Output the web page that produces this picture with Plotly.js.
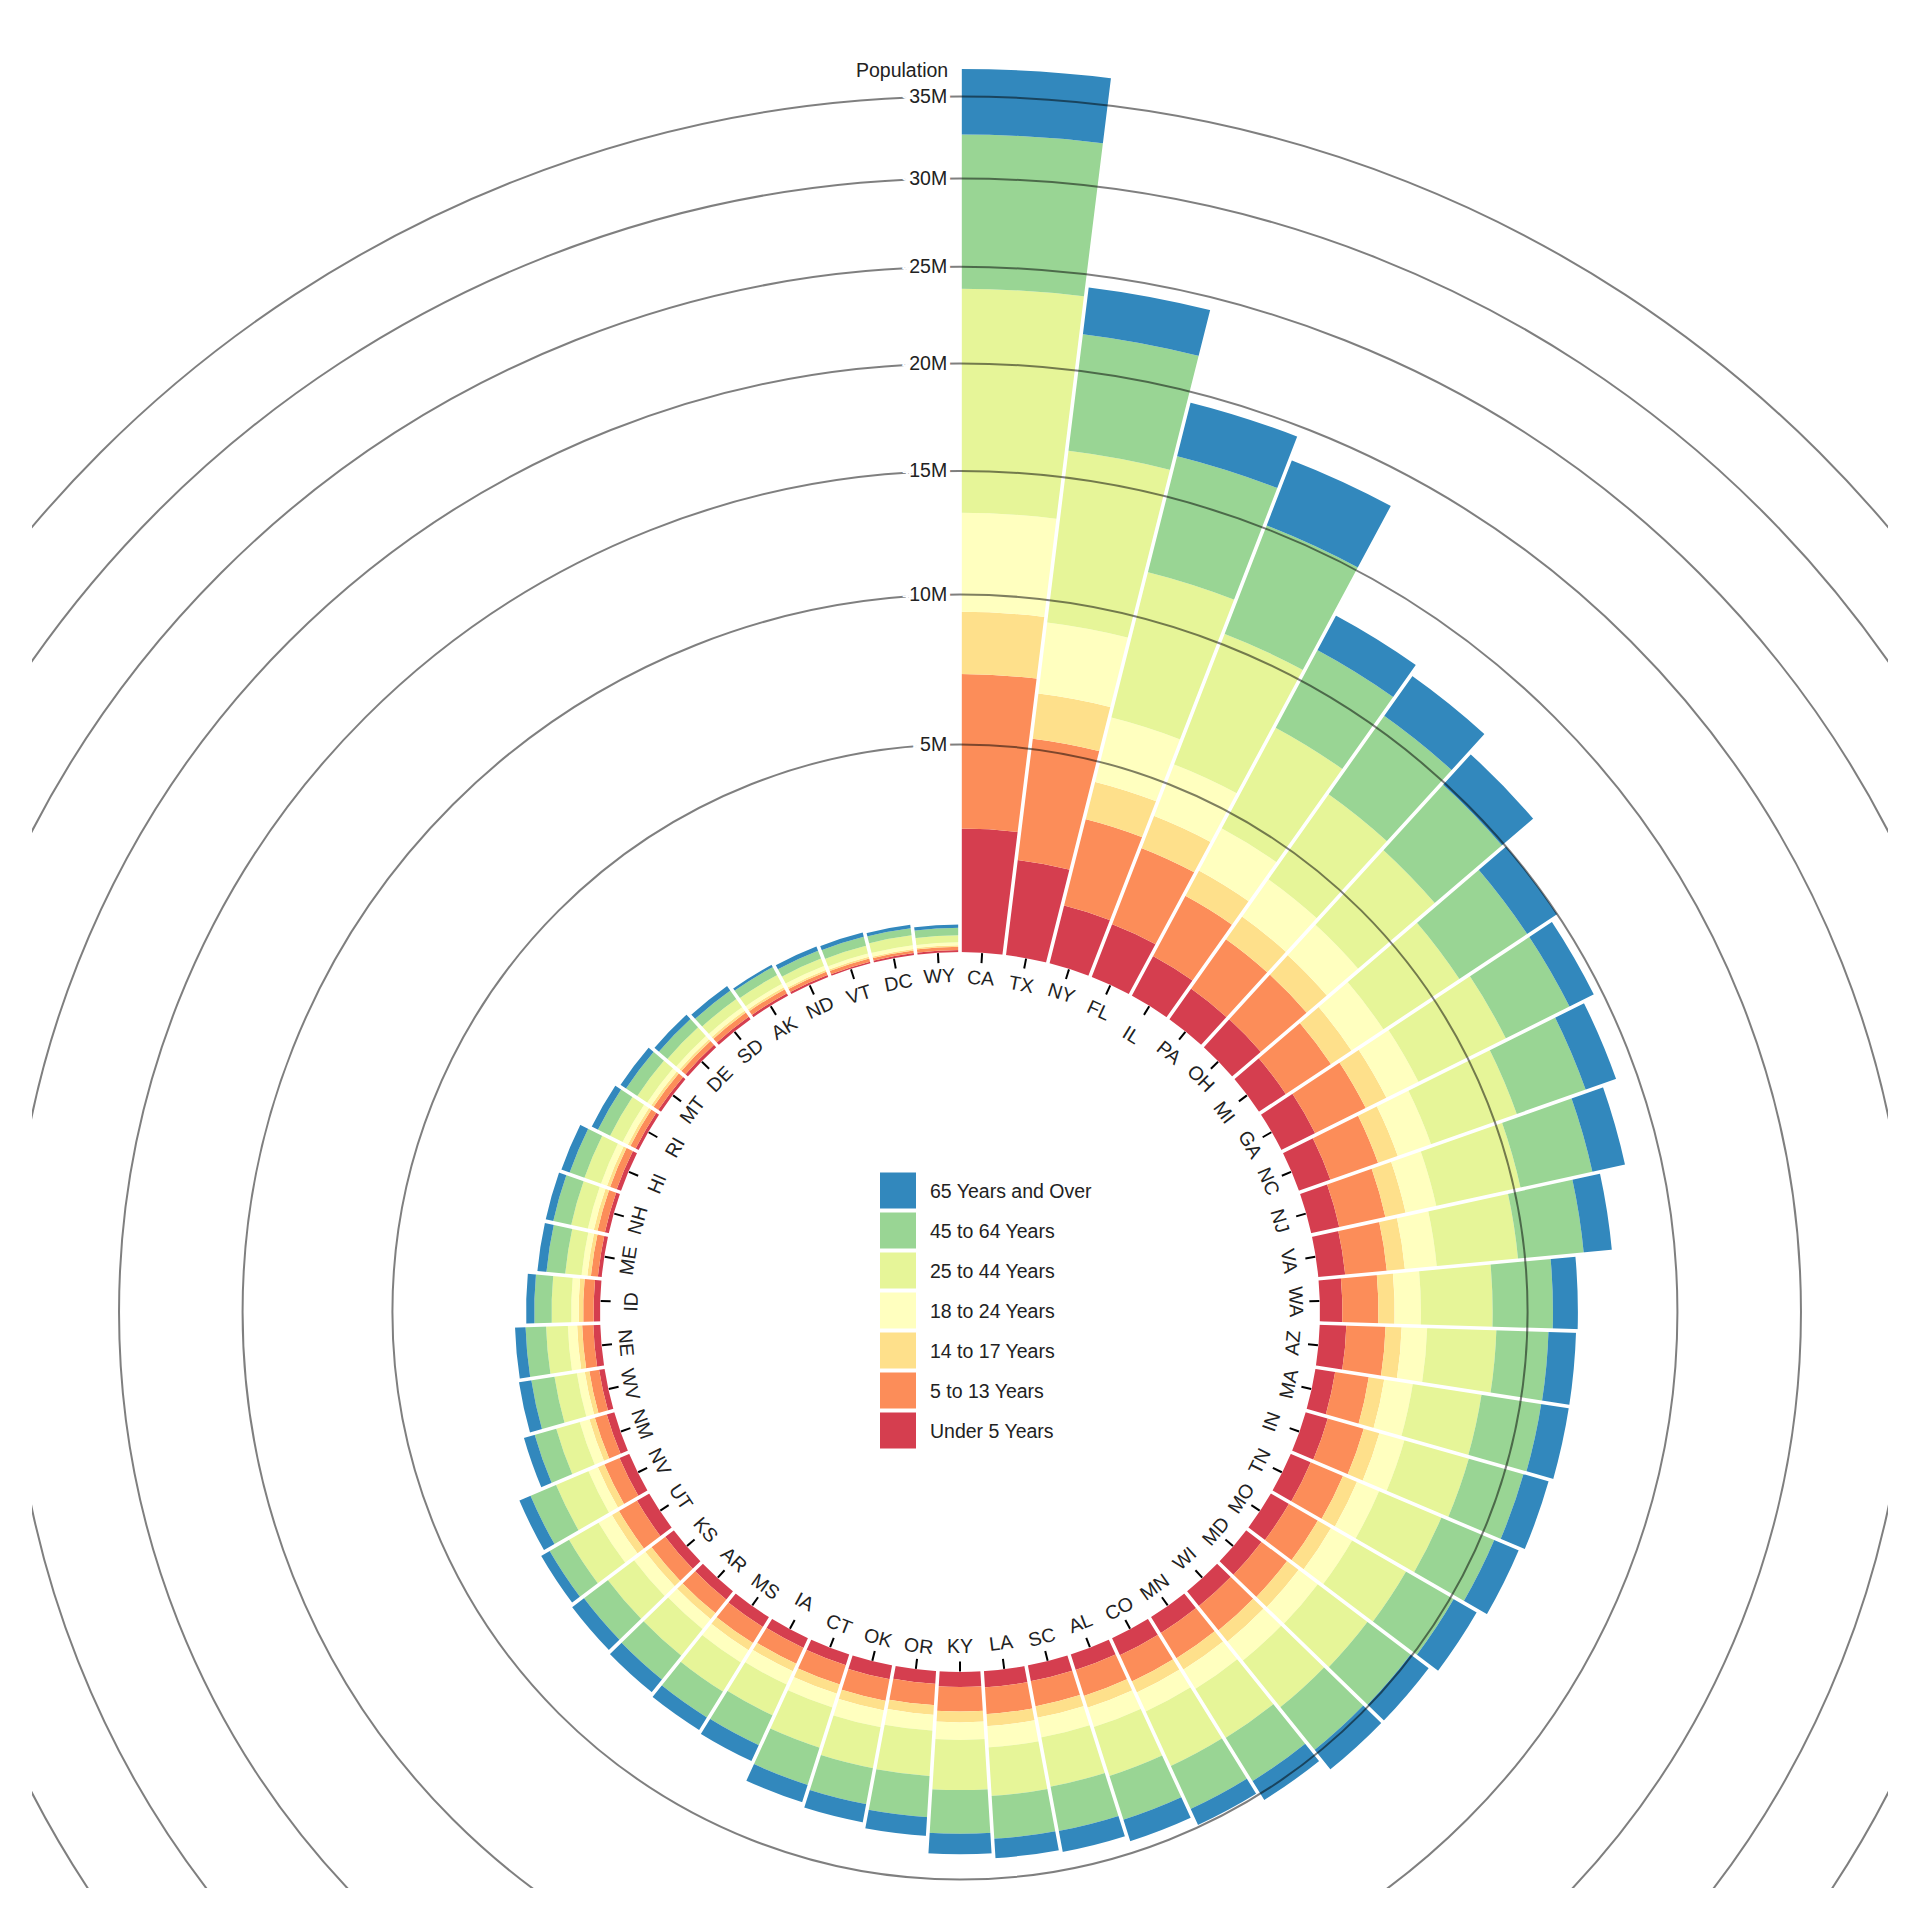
<!DOCTYPE html>
<html><head><meta charset="utf-8">
<script src="https://cdn.plot.ly/plotly-3.0.1.min.js"></script>
<style>html,body{margin:0;padding:0;width:1920px;height:1920px;overflow:hidden;background:#fff}
#clip{position:absolute;left:32px;top:32px;width:1856px;height:1856px;overflow:hidden}
#chart{position:absolute;left:-572px;top:-220px;width:3000px;height:3000px}</style>
</head><body><div id="clip"><div id="chart"></div></div>
<script>
const states=["CA","TX","NY","FL","IL","PA","OH","MI","GA","NC","NJ","VA","WA","AZ","MA","IN","TN","MO","MD","WI","MN","CO","AL","SC","LA","KY","OR","OK","CT","IA","MS","AR","KS","UT","NV","NM","WV","NE","ID","ME","NH","HI","RI","MT","DE","SD","AK","ND","VT","DC","WY"];
const under5=[2704659,2027307,1208495,1140516,894368,737462,743750,625526,740521,652823,557421,522672,433119,515910,383568,443089,416334,399450,371787,362277,358471,358280,310504,303024,310716,284601,243483,266547,211637,201321,220813,202070,202529,268916,199175,148323,105435,132092,121746,71459,75297,87207,60934,61114,59319,58566,52083,41896,32635,36352,38253];
const age5to13=[4499890,3277946,2141490,1938695,1558919,1345341,1340492,1179503,1250460,1097890,1011656,887525,750274,828669,701752,780199,725948,690476,651923,640286,606802,587154,552339,517803,542341,493536,424167,438926,403658,345409,371502,343207,342134,413034,325650,241326,189649,215265,201192,133656,144235,134025,111408,106088,99496,94438,85640,67358,62538,50439,60890];
const age14to17=[2159981,1420518,1058031,925060,725973,679201,646135,585169,557860,492964,478505,413004,357782,362642,341713,361393,336312,331543,316873,311849,289371,261701,259034,245400,254916,229927,199925,200562,196918,165883,174405,157204,155822,167685,142976,112801,91074,99638,89702,69752,73826,64011,56198,53156,47414,45305,42153,33794,33757,25225,29314];
const age18to24=[3853788,2454721,1999120,1607297,1311479,1203944,1081734,974480,919876,883397,769321,768475,610378,601943,665879,605863,550612,560463,543470,553914,507289,466194,450818,438147,471275,381394,338162,369916,306855,306398,305964,264160,293114,329585,212379,203097,157989,186657,147606,112682,119114,124834,114502,95232,84464,82869,74257,82629,61679,75569,53980];
const age25to44=[10604510,7017731,5355235,4782119,3596343,3157759,3019147,2628322,2846985,2575603,2379649,2203286,1850983,1804762,1782449,1724528,1719433,1569626,1556225,1487457,1416063,1464939,1231572,1193112,1162463,1179637,1044056,957085,956621,750505,764203,754420,728166,772024,769913,517154,470749,457177,406247,331809,345109,356237,277779,236297,230183,196738,198724,154913,155419,193557,137338];
const age45to64=[8819342,5656528,5120254,4746856,3239173,3414001,3083815,2706100,2389018,2380685,2335168,2033550,1762811,1523681,1751508,1647881,1646623,1554812,1513754,1522038,1391878,1290094,1215966,1186019,1128771,1134283,1036269,918688,968967,788485,730133,727124,713663,538978,653357,501604,514505,451756,375173,397911,388250,331817,282321,278241,230528,210178,183159,166615,188593,140043,147279];
const age65plus=[4114496,2472223,2607672,3187797,1575308,1910571,1570837,1304322,981024,1139052,1150941,940577,783877,862573,871098,813839,819626,805235,679565,750146,650519,511094,641667,596295,540314,565867,503998,490637,478007,444554,371502,407205,366706,246202,296717,260051,285067,240847,182150,199187,169978,190067,147646,137312,121688,116100,50277,94276,86649,70648,65614];
const seriesNames=["Under 5 Years","5 to 13 Years","14 to 17 Years","18 to 24 Years","25 to 44 Years","45 to 64 Years","65 Years and Over"];
const seriesValues=[under5,age5to13,age14to17,age18to24,age25to44,age45to64,age65plus];
const seriesColors=["#d53e4f","#fc8d59","#fee08b","#ffffbf","#e6f598","#99d594","#3288bd"];
const tickValues=[5e6,10e6,15e6,20e6,25e6,30e6,35e6];
const tickLabels=["5M","10M","15M","20M","25M","30M","35M"];

const W=3000, OX=-540, OY=-188, CX=960, CY=1312, R0=360, R1=1243, FS=19.5;
const FONT='"Liberation Sans",Arial,sans-serif', INK='#222';
const px=x=>(x-OX)/W, py=y=>1-(y-OY)/W;
const totals=states.map((_,i)=>seriesValues.reduce((a,s)=>a+s[i],0));
const maxT=Math.max(...totals);
const radial=v=>Math.sqrt(R0*R0+(v/maxT)*(R1*R1-R0*R0));
const band=360/states.length;
const centers=states.map((_,i)=>(i+.5)*band);

const traces=[];
const run=states.map(()=>0);
seriesValues.forEach((vals,k)=>{
  const base=vals.map((v,i)=>radial(run[i]));
  vals.forEach((v,i)=>run[i]+=v);
  const r=vals.map((v,i)=>radial(run[i])-base[i]);
  traces.push({type:'barpolar',subplot:'polar',name:seriesNames[k],theta:centers,r,base,width:band,
    marker:{color:seriesColors[k],line:{width:0}},hovertemplate:'%{customdata}<extra>'+seriesNames[k]+'</extra>',customdata:states,showlegend:false});
});
// constant-width white gaps between neighbouring columns
traces.push({type:'barpolar',subplot:'polar',name:'gaps',theta:states.map((_,i)=>i*band),
  base:states.map(()=>R0-3),
  r:states.map((_,i)=>radial(Math.max(totals[i],totals[(i+states.length-1)%states.length]))+3-(R0-3)),
  width:0.002,marker:{color:'#fff',line:{color:'#fff',width:3.6}},hoverinfo:'skip',showlegend:false});
traces.push({type:'scatterpolar',subplot:'polar2',mode:'none',r:[0],theta:[0],hoverinfo:'skip',showlegend:false});
traces.push({type:'scatterpolar',subplot:'polar3',mode:'none',r:[0],theta:[0],hoverinfo:'skip',showlegend:false});
// state labels, oriented along the ring
const labelOuter=351.5, labelInner=295.5;
traces.push({type:'pie',values:states.map(()=>1),text:states,textinfo:'text',textposition:'inside',
  insidetextorientation:'tangential',sort:false,direction:'clockwise',rotation:0,hole:labelInner/labelOuter,
  marker:{colors:states.map(()=>'rgba(0,0,0,0)'),line:{width:0}},
  domain:{x:[px(CX-labelOuter),px(CX+labelOuter)],y:[py(CY+labelOuter),py(CY-labelOuter)]},
  textfont:{family:FONT,size:FS,color:INK},hoverinfo:'skip',showlegend:false});

const halo=[4,-8,2,-5,-2].flatMap(x=>[-4,0,4].map(y=>`${x}px ${y}px 0 #fff`)).join(',');
const shapes=[],annotations=[{xref:'paper',yref:'paper',x:px(950),y:py(70),xanchor:'right',yanchor:'middle',showarrow:false,
  text:'Population',font:{family:FONT,size:FS,color:INK}}];
seriesNames.slice().reverse().forEach((n,i)=>{
  const k=seriesNames.length-1-i, top=1172.5+i*40;
  shapes.push({type:'rect',xref:'paper',yref:'paper',x0:px(880),x1:px(916),y0:py(top),y1:py(top+36),fillcolor:seriesColors[k],line:{width:0},layer:'above'});
  annotations.push({xref:'paper',yref:'paper',x:px(928),y:py(top+18),xanchor:'left',yanchor:'middle',showarrow:false,text:n,font:{family:FONT,size:FS,color:INK}});
});
const layout={width:W,height:W,margin:{l:0,r:0,t:0,b:0,pad:0},paper_bgcolor:'rgba(0,0,0,0)',showlegend:false,font:{family:FONT},
  polar:{domain:{x:[0,1],y:[0,1]},bgcolor:'rgba(0,0,0,0)',barmode:'overlay',bargap:0,
    radialaxis:{visible:false,range:[0,W/2]},angularaxis:{visible:false,rotation:90,direction:'clockwise',thetaunit:'degrees'}},
  polar2:{domain:{x:[0,1],y:[0,1]},bgcolor:'rgba(0,0,0,0)',
    radialaxis:{range:[0,W/2],angle:90,side:'counterclockwise',tickmode:'array',tickvals:tickValues.map(radial),ticktext:tickLabels,
      showline:false,showgrid:true,gridcolor:'rgba(0,0,0,0.5)',gridwidth:2,ticks:'outside',ticklen:5.5,tickcolor:'rgba(0,0,0,0)',
      tickangle:90,tickfont:{family:FONT,size:FS,color:INK,shadow:halo}},
    angularaxis:{visible:false,rotation:90,direction:'clockwise'}},
  polar3:{domain:{x:[px(CX-R0),px(CX+R0)],y:[py(CY+R0),py(CY-R0)]},bgcolor:'rgba(0,0,0,0)',
    radialaxis:{visible:false,range:[0,1]},
    angularaxis:{rotation:90,direction:'clockwise',tickmode:'array',tickvals:centers,ticktext:states,showticklabels:false,
      showgrid:false,showline:false,ticks:'inside',ticklen:10,tickwidth:2,tickcolor:'#000'}},
  shapes,annotations};
Plotly.newPlot('chart',traces,layout,{displayModeBar:false,responsive:false});
</script></body></html>
